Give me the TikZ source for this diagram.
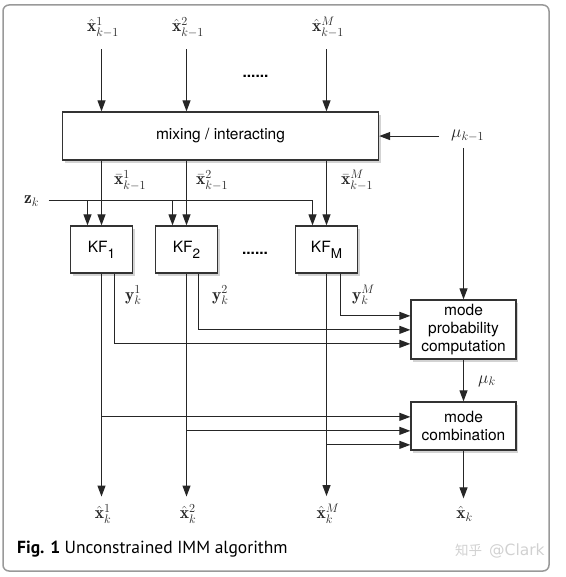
\documentclass[tikz,border=0pt]{standalone}
\usepackage{fix-cm}
\usepackage{amssymb, amsmath}
\usepackage{fontspec}
\setsansfont{TeX Gyre Heros}
\newfontfamily\capfont{PT Sans}
\newfontfamily\cjkfont{Noto Sans CJK SC}
\newfontfamily\wmfont{DejaVu Sans}
\usetikzlibrary{arrows.meta, shadows}
\newcommand{\kfsub}[1]{\raisebox{-6pt}{\fontsize{13.5}{14}\selectfont #1}}

\begin{document}
\begin{tikzpicture}[x=1pt, y=-1pt,
    every node/.style={font=\fontsize{15.5}{18.3}\selectfont},
    blk/.style={draw=black!80, line width=1.3pt, fill=white, align=center, inner sep=0pt,
        font=\sffamily\fontsize{15.5}{18.3}\selectfont,
        drop shadow={shadow xshift=2pt, shadow yshift=-3pt, opacity=0.35}},
    lbl/.style={inner sep=0pt, anchor=base, text=black!85, font=\fontsize{17.5}{20}\selectfont},
    arr/.style={line width=1.1pt, draw=black!85, -{Triangle[length=11pt, width=8pt]}}]
    \useasboundingbox (0,0) rectangle (565,577);
    \draw[black!40, line width=1.5pt, rounded corners=6pt] (3,5) rectangle (549,571);

    \node[blk, minimum width=316pt, minimum height=48pt] (mix) at (220.5,136) {mixing / interacting};
    \node[blk, minimum width=62pt, minimum height=47pt] (kf1) at (101.5,249.5) {KF\kfsub{1}};
    \node[blk, minimum width=62pt, minimum height=47pt] (kf2) at (186.5,249.5) {KF\kfsub{2}};
    \node[blk, minimum width=62pt, minimum height=47pt] (kfM) at (326.5,249.5) {KF\kfsub{M}};
    \node[blk, minimum width=105pt, minimum height=59pt] (prob) at (463.5,329.5) {mode\\probability\\computation};
    \node[blk, minimum width=105pt, minimum height=48pt] (comb) at (463.5,426) {mode\\combination};

    \node[lbl] (xa1) at (103,32) {$\hat{\mathbf{x}}^1_{k-1}$};
    \node[lbl] (xa2) at (188,32) {$\hat{\mathbf{x}}^2_{k-1}$};
    \node[lbl] (xaM) at (328,32) {$\hat{\mathbf{x}}^M_{k-1}$};
    \node (dots1) at (255.5,76) {\sffamily\bfseries ......};
    \node[lbl, anchor=base west] (mu1) at (451,138) {$\mu_{k-1}$};
    \node[lbl, anchor=base west] (xb1) at (114,185) {$\bar{\mathbf{x}}^1_{k-1}$};
    \node[lbl, anchor=base west] (xb2) at (196,185) {$\bar{\mathbf{x}}^2_{k-1}$};
    \node[lbl, anchor=base west] (xbM) at (341,185) {$\bar{\mathbf{x}}^M_{k-1}$};
    \node[lbl, anchor=base west] (zk) at (24,204) {$\mathbf{z}_k$};
    \node (dots2) at (255,253) {\sffamily\bfseries ......};
    \node[lbl, anchor=base west] (y1) at (125,300) {$\mathbf{y}^1_k$};
    \node[lbl, anchor=base west] (y2) at (212,300) {$\mathbf{y}^2_k$};
    \node[lbl, anchor=base west] (yM) at (352,300) {$\mathbf{y}^M_k$};
    \node[lbl, anchor=base west] (muk) at (478,383) {$\mu_k$};
    \node[lbl] (xo1) at (103,518.5) {$\hat{\mathbf{x}}^1_k$};
    \node[lbl] (xo2) at (188,518.5) {$\hat{\mathbf{x}}^2_k$};
    \node[lbl] (xoM) at (328,518.5) {$\hat{\mathbf{x}}^M_k$};
    \node[lbl] (xok) at (464.5,518.5) {$\hat{\mathbf{x}}_k$};

    \coordinate (zin) at (48.5,200.5);
    \coordinate (z1) at ([xshift=-14pt]kf1.north);
    \coordinate (z2) at ([xshift=-14pt]kf2.north);
    \coordinate (zM) at ([xshift=-14pt]kfM.north);
    \coordinate (p1) at ([yshift=-44.5pt]prob.north west);
    \coordinate (p2) at ([yshift=-30.5pt]prob.north west);
    \coordinate (pM) at ([yshift=-16.5pt]prob.north west);
    \coordinate (c1) at ([yshift=-15.5pt]comb.north west);
    \coordinate (c2) at ([yshift=-29.5pt]comb.north west);
    \coordinate (cM) at ([yshift=-43.5pt]comb.north west);

    \draw[arr, shorten <=11pt] (xa1.south -| kf1) -- (mix.north -| kf1);
    \draw[arr, shorten <=11pt] (xa2.south -| kf2) -- (mix.north -| kf2);
    \draw[arr, shorten <=11pt] (xaM.south -| kfM) -- (mix.north -| kfM);
    \draw[arr, shorten <=12pt] (mu1.west) -- (mu1.west -| mix.east);
    \draw[arr, shorten <=6pt] (mu1.south -| prob.north) -- (prob.north);

    \draw[arr] (mix.south -| kf1.north) -- (kf1.north);
    \draw[arr] (mix.south -| kf2.north) -- (kf2.north);
    \draw[arr] (mix.south -| kfM.north) -- (kfM.north);
    \draw[arr] (zin) -| (zM);
    \draw[arr] (zin -| z1) -- (z1);
    \draw[arr] (zin -| z2) -- (z2);

    \draw[arr] ([xshift=13pt]kf1.south) |- (p1);
    \draw[arr] ([xshift=12pt]kf2.south) |- (p2);
    \draw[arr] ([xshift=14pt]kfM.south) |- (pM);

    \draw[arr, shorten >=7.5pt] (kf1.south) -- (xo1.north -| kf1);
    \draw[arr, shorten >=7.5pt] (kf2.south) -- (xo2.north -| kf2);
    \draw[arr, shorten >=7.5pt] (kfM.south) -- (xoM.north -| kfM);
    \draw[arr] (kf1.south |- c1) -- (c1);
    \draw[arr] (kf2.south |- c2) -- (c2);
    \draw[arr] (kfM.south |- cM) -- (cM);

    \draw[arr] (prob.south) -- (comb.north);
    \draw[arr, shorten >=7.5pt] (comb.south) -- (xok.north -| comb.south);

    \node[anchor=base west, inner sep=0pt] (cap) at (17,553.5) {\capfont\fontsize{17.5}{19}\selectfont\bfseries Fig. 1 \mdseries Unconstrained IMM algorithm};
    \begin{scope}
        \clip (440,530) rectangle (548,570);
        \node[anchor=base west, inner sep=0pt, text=black!18] (wm) at (455,555) {\cjkfont\fontsize{13.5}{16}\selectfont 知乎\hspace{7pt}\wmfont\fontsize{15.5}{16}\selectfont @Clark};
    \end{scope}
\end{tikzpicture}
\end{document}
